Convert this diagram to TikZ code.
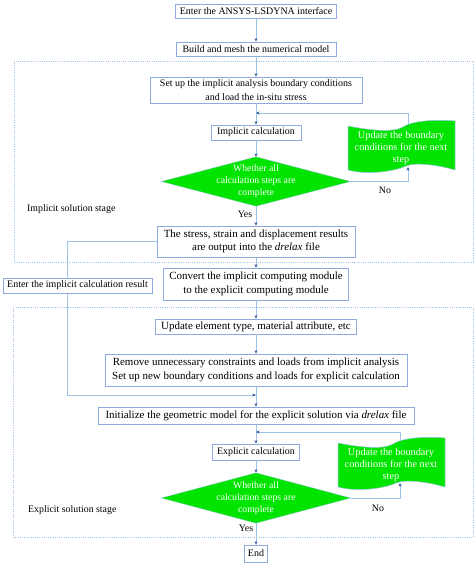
\documentclass[tikz,border=0pt]{standalone}
\usepackage{fontspec}
\setmainfont{Liberation Serif}
\usetikzlibrary{arrows.meta}
\definecolor{linecol}{RGB}{157,195,230}
\definecolor{boxcol}{RGB}{143,170,220}
\definecolor{tipcol}{RGB}{47,85,151}
\definecolor{flowgreen}{RGB}{0,228,0}
\newcommand\wavedoc[2]{%
  \begin{scope}[shift={(#1,#2)}]
    \filldraw[fill=flowgreen, draw=linecol, line width=0.5pt]
      (0,6) .. controls (20,10) and (45,13) .. (55,7)
      .. controls (63,1) and (88,-1) .. (107,1) -- (107,50)
      .. controls (90,45) and (68,42) .. (58,46)
      .. controls (45,52) and (18,55) .. (0,50) -- cycle;
  \end{scope}}
\newcommand\diamondshape[1]{%
  \fill[flowgreen, draw=linecol, line width=0.3pt] (#1.north) -- (#1.east) -- (#1.south) -- (#1.west) -- cycle;}
\begin{document}
\begin{tikzpicture}[x=1bp,y=-1bp,
  box/.style={draw=boxcol, line width=0.8pt, fill=white, inner sep=0pt, align=center,
    font=\fontsize{10}{14}\selectfont},
  bigbox/.style={box, font=\fontsize{11}{14}\selectfont},
  arr/.style={draw=linecol, line width=0.7pt, -{Stealth[length=3.5pt,width=3pt,color=tipcol]}},
  frame/.style={draw=linecol, line width=0.7pt, dash pattern=on 1pt off 1.2pt},
  wtext/.style={text=white, align=center, inner sep=0pt, font=\fontsize{9.8}{12}\selectfont},
  dtext/.style={text=white, align=center, inner sep=0pt, font=\fontsize{10.3}{11.8}\selectfont},
  lbl/.style={inner sep=0pt, font=\fontsize{9.9}{11}\selectfont}
]
\useasboundingbox (0,0) rectangle (474,566);

% frames
\draw[frame] (14,61) rectangle (473,262);
\draw[frame] (13,307) rectangle (473,537);

% main boxes
\node[box, minimum width=161bp, minimum height=14bp] (n1) at (256,11) {Enter the ANSYS-LSDYNA interface};
\node[box, minimum width=160bp, minimum height=14bp] (n2) at (256,49) {Build and mesh the numerical model};
\node[box, minimum width=212bp, minimum height=26bp] (n3) at (256,90) {Set up the implicit analysis boundary conditions\\and load the in-situ stress};
\node[box, minimum width=90bp, minimum height=15bp] (n4) at (256,132.5) {Implicit calculation};
\node[inner sep=0pt, minimum width=189bp, minimum height=49bp] (d1) at (256,181.5) {};
\node[bigbox, font=\fontsize{11}{13}\selectfont, minimum width=198bp, minimum height=31bp] (n5) at (256,241.5) {The stress, strain and displacement results\\are output into the \textit{drelax} file};
\node[bigbox, minimum width=185bp, minimum height=32bp] (n6) at (256,284) {Convert the implicit computing module\\to the explicit computing module};
\node[bigbox, minimum width=201bp, minimum height=15bp] (n7) at (256,326.5) {Update element type, material attribute, etc};
\node[bigbox, minimum width=302bp, minimum height=32bp] (n8) at (256,370) {Remove unnecessary constraints and loads from implicit analysis\\Set up new boundary conditions and loads for explicit calculation};
\node[bigbox, minimum width=316bp, minimum height=17bp] (n9) at (256,415.5) {Initialize the geometric model for the explicit solution via \textit{drelax} file};
\node[box, minimum width=87bp, minimum height=16bp] (n10) at (256,452) {Explicit calculation};
\node[inner sep=0pt, minimum width=189bp, minimum height=50bp] (d2) at (256,498) {};
\node[box, minimum width=23bp, minimum height=17bp] (n11) at (256,553.5) {End};

% coordinates for loops
\coordinate (j1) at (256,113);
\coordinate (c1a) at (408,181.5);
\coordinate (c1b) at (408,167);
\coordinate (c1t) at (408,124);
\coordinate (c1u) at (408,113);
\coordinate (j2) at (256,432);
\coordinate (c2a) at (400,498);
\coordinate (c2b) at (400,483);
\coordinate (c2t) at (400,440);
\coordinate (c2u) at (400,432);
\coordinate (k1) at (67,241.5);
\coordinate (k2) at (67,395);
\coordinate (j3) at (256,395);

% connectors
\draw[arr] (n1) -- (n2);
\draw[arr] (n2) -- (n3);
\draw[arr] (n3) -- (n4);
\draw[arr] (n4) -- (d1.north);
\draw[arr] (d1.south) -- (n5);
\draw[arr] (n5) -- (n6);
\draw[arr] (n6) -- (n7);
\draw[arr] (n7) -- (n8);
\draw[arr] (n8) -- (n9);
\draw[arr] (n9) -- (n10);
\draw[arr] (n10) -- (d2.north);
\draw[arr] (d2.south) -- (n11);
\draw[arr] (d1.east) -- (c1a) -- (c1b);
\draw[arr] (c1t) -- (c1u) -- (j1);
\draw[arr] (d2.east) -- (c2a) -- (c2b);
\draw[arr] (c2t) -- (c2u) -- (j2);
\draw[arr] (n5.west) -- (k1) -- (k2) -- (j3);

% green shapes
\diamondshape{d1}
\diamondshape{d2}
\node[wtext] (t1) at (d1) {Whether all\\calculation steps are\\complete};
\node[wtext] (t2) at (d2) {Whether all\\calculation steps are\\complete};
\wavedoc{348}{120}
\node[dtext] (u1) at (401,148) {Update the boundary\\conditions for the next\\step};
\wavedoc{338}{437}
\node[dtext] (u2) at (391,465) {Update the boundary\\conditions for the next\\step};

% side label box
\node[box, minimum width=149bp, minimum height=15bp, font=\fontsize{10}{11}\selectfont] (lab1) at (77.5,285.5) {Enter the implicit calculation result};

% labels
\node[lbl, anchor=west] (s1) at (27,209) {Implicit solution stage};
\node[lbl, anchor=west] (s2) at (28,510) {Explicit solution stage};
\node[lbl] (no1) at (385,190) {No};
\node[lbl] (no2) at (378,508) {No};
\node[lbl] (y1) at (245,214) {Yes};
\node[lbl] (y2) at (246,528) {Yes};
\end{tikzpicture}
\end{document}
